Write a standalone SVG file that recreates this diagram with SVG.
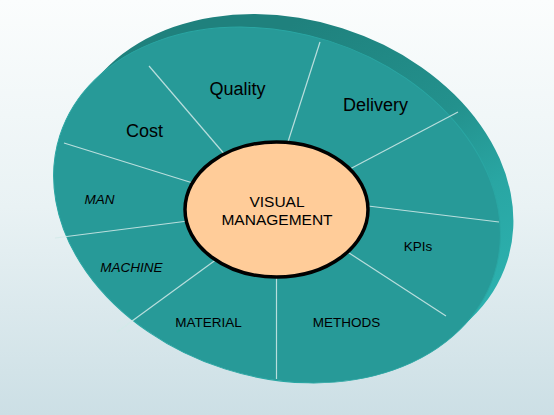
<svg xmlns="http://www.w3.org/2000/svg" width="554" height="415" viewBox="0 0 554 415">
  <defs>
    <linearGradient id="bg" x1="0" y1="0" x2="0" y2="1">
      <stop offset="0" stop-color="#FBFDFD"/>
      <stop offset="0.5" stop-color="#E9F2F4"/>
      <stop offset="1" stop-color="#CCDFE5"/>
    </linearGradient>
    <linearGradient id="rim" gradientUnits="userSpaceOnUse" x1="250" y1="20" x2="505" y2="250">
      <stop offset="0" stop-color="#1F817D"/>
      <stop offset="0.45" stop-color="#23918D"/>
      <stop offset="0.7" stop-color="#29A6A3"/>
      <stop offset="1" stop-color="#2CB1AF"/>
    </linearGradient>
    <style>
      .div { stroke: #D2EAE9; stroke-width: 1.2; stroke-opacity: 0.85; fill: none; }
      .lbl { font-family: "Liberation Sans", Arial, sans-serif; fill: #000; text-anchor: middle; }
      .big { font-size: 18px; }
      .small { font-size: 13.5px; }
      .it { font-style: italic; }
    </style>
  </defs>

  <rect x="0" y="0" width="554" height="415" fill="url(#bg)"/>

  <g id="disc">
    <ellipse cx="290" cy="192" rx="228" ry="172" transform="rotate(17.7 290 192)" fill="url(#rim)"/>
    <ellipse cx="277" cy="205" rx="228" ry="172" transform="rotate(17.7 277 205)" fill="#279A98" stroke="#2AA6A3" stroke-width="1"/>
  </g>

  <g id="connectors">
    <line class="div" x1="149" y1="66" x2="226" y2="156"/>
    <line class="div" x1="320" y1="42" x2="286" y2="148"/>
    <line class="div" x1="458" y1="112" x2="348" y2="170"/>
    <line class="div" x1="499" y1="222" x2="368" y2="206"/>
    <line class="div" x1="446" y1="316" x2="346" y2="251"/>
    <line class="div" x1="276.5" y1="379" x2="276.5" y2="272"/>
    <line class="div" x1="117" y1="332" x2="217" y2="259"/>
    <line class="div" x1="55" y1="238" x2="188" y2="221"/>
    <line class="div" x1="64" y1="143" x2="196" y2="184"/>
  </g>

  <g id="center">
    <ellipse cx="276.5" cy="209.5" rx="91.5" ry="67.5" fill="#FFCC99" stroke="#000" stroke-width="3.5"/>
    <text class="lbl" x="277" y="206.5" font-size="15.5">VISUAL</text>
    <text class="lbl" x="277" y="224.5" font-size="15.5">MANAGEMENT</text>
  </g>

  <g id="label-cost"><text class="lbl big" x="144.5" y="137">Cost</text></g>
  <g id="label-quality"><text class="lbl big" x="237.5" y="95">Quality</text></g>
  <g id="label-delivery"><text class="lbl big" x="375.5" y="111">Delivery</text></g>
  <g id="label-man"><text class="lbl small it" x="99.5" y="204">MAN</text></g>
  <g id="label-machine"><text class="lbl small it" x="131.5" y="272">MACHINE</text></g>
  <g id="label-material"><text class="lbl small" x="208.5" y="327">MATERIAL</text></g>
  <g id="label-methods"><text class="lbl small" x="346.5" y="327">METHODS</text></g>
  <g id="label-kpis"><text class="lbl small" x="418" y="251">KPIs</text></g>
</svg>
